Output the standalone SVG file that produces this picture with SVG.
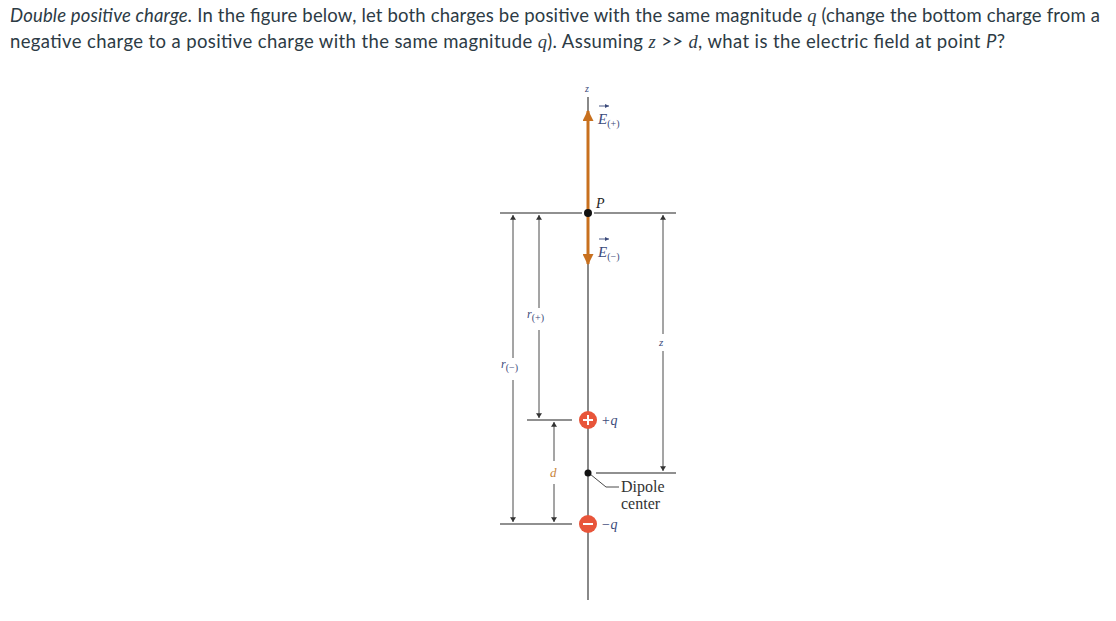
<svg xmlns="http://www.w3.org/2000/svg" width="1116" height="621" viewBox="0 0 1116 621">
<defs>
<style>
.t{font-family:Lato,"Open Sans",sans-serif;font-size:18.5px;fill:#2d3b45}
.i{font-style:italic}
.m{font-family:"Liberation Serif",serif;font-style:italic}
.g{stroke:#6b6b6b;stroke-width:1.6;fill:none}
.d{stroke:#4a4a4a;stroke-width:1;fill:none}
.lb{font-family:"Liberation Serif",serif;font-style:italic;fill:#3b4a7a}
</style>
<marker id="ah" viewBox="0 0 8 10" refX="8" refY="5" markerWidth="5" markerHeight="6" orient="auto-start-reverse" markerUnits="userSpaceOnUse"><path d="M0,0 L8,5 L0,10z" fill="#333"/></marker>
<marker id="oa" viewBox="0 0 10 10" refX="9" refY="5" markerWidth="11" markerHeight="11" orient="auto" markerUnits="userSpaceOnUse"><path d="M0,0 L10,5 L0,10z" fill="#c8701e"/></marker>
<marker id="va" viewBox="0 0 6 6" refX="6" refY="3" markerWidth="4" markerHeight="4" orient="auto" markerUnits="userSpaceOnUse"><path d="M0,0 L6,3 L0,6z" fill="#3b4a7a"/></marker>
</defs>
<rect width="1116" height="621" fill="#fff"/>
<text class="t" x="10" y="22" textLength="1090" lengthAdjust="spacing"><tspan class="i">Double positive charge.</tspan> In the figure below, let both charges be positive with the same magnitude <tspan class="m">q</tspan> (change the bottom charge from a</text>
<text class="t" x="10" y="48" textLength="995" lengthAdjust="spacing">negative charge to a positive charge with the same magnitude <tspan class="m">q</tspan>). Assuming <tspan class="m">z</tspan> &gt;&gt; <tspan class="m">d</tspan>, what is the electric field at point <tspan class="i">P</tspan>?</text>
<g id="connectors">
<line class="g" x1="588" y1="97" x2="588" y2="600"/>
<line class="g" x1="500" y1="213" x2="582" y2="213"/>
<line class="g" x1="594" y1="213" x2="676" y2="213"/>
<line class="g" x1="527" y1="420" x2="572" y2="420"/>
<line class="g" x1="596" y1="473" x2="676" y2="473"/>
<line class="g" x1="500" y1="524" x2="572" y2="524"/>
<line stroke="#c8701e" stroke-width="3" x1="588" y1="213" x2="588" y2="111" marker-end="url(#oa)"/>
<line stroke="#c8701e" stroke-width="3" x1="588" y1="213" x2="588" y2="264" marker-end="url(#oa)"/>
<line class="d" x1="513" y1="215" x2="513" y2="358" marker-start="url(#ah)"/>
<line class="d" x1="513" y1="380" x2="513" y2="522" marker-end="url(#ah)"/>
<line class="d" x1="539" y1="215" x2="539" y2="308" marker-start="url(#ah)"/>
<line class="d" x1="539" y1="330" x2="539" y2="418" marker-end="url(#ah)"/>
<line class="d" x1="554" y1="422" x2="554" y2="461" marker-start="url(#ah)"/>
<line class="d" x1="554" y1="484" x2="554" y2="522" marker-end="url(#ah)"/>
<line class="d" x1="663" y1="215" x2="663" y2="334" marker-start="url(#ah)"/>
<line class="d" x1="663" y1="351" x2="663" y2="471" marker-end="url(#ah)"/>
<polyline class="d" points="590,474 606,487 619,487"/>
</g>
<g id="P"><circle cx="588" cy="213" r="4" fill="#111"/><text class="m" x="596" y="208" font-size="14" fill="#222">P</text></g>
<g id="labels">
<text class="lb" x="585" y="92" font-size="10">z</text>
<text class="lb" x="598" y="124" font-size="15">E<tspan font-size="10" font-style="normal" dy="3">(+)</tspan></text>
<line x1="599" y1="106" x2="609" y2="106" stroke="#3b4a7a" stroke-width="0.9" marker-end="url(#va)"/>
<text class="lb" x="598" y="257" font-size="15">E<tspan font-size="10" font-style="normal" dy="3">(−)</tspan></text>
<line x1="599" y1="239" x2="609" y2="239" stroke="#3b4a7a" stroke-width="0.9" marker-end="url(#va)"/>
<text class="lb" x="527" y="318" font-size="12">r<tspan font-size="10" font-style="normal" dy="3">(+)</tspan></text>
<text class="lb" x="501" y="368" font-size="12">r<tspan font-size="10" font-style="normal" dy="3">(−)</tspan></text>
<text class="lb" x="659" y="346" font-size="11">z</text>
<text class="lb" x="550" y="477" font-size="13" style="fill:#c8843a">d</text>
</g>
<g id="plusq"><circle cx="588" cy="420" r="9" fill="#e8553a"/><path d="M583,420h10M588,415v10" stroke="#fff" stroke-width="2"/><text class="lb" x="601" y="425" font-size="14">+q</text></g>
<g id="center"><circle cx="588" cy="473" r="3.5" fill="#111"/><text x="621" y="492" font-family="Liberation Serif,serif" font-size="16" fill="#333">Dipole</text><text x="621" y="509" font-family="Liberation Serif,serif" font-size="16" fill="#333">center</text></g>
<g id="minusq"><circle cx="588" cy="524" r="9" fill="#e8553a"/><path d="M583,524h10" stroke="#fff" stroke-width="2"/><text class="lb" x="601" y="529" font-size="14">−q</text></g>
</svg>
